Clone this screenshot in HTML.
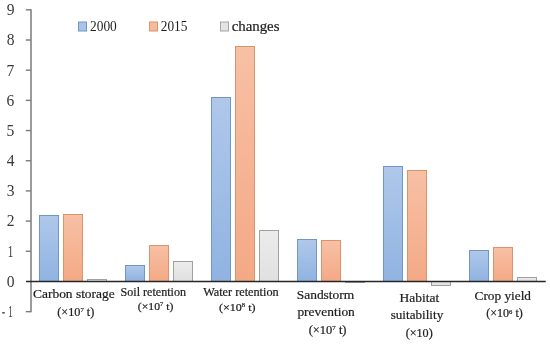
<!DOCTYPE html>
<html><head><meta charset="utf-8"><style>
html,body{margin:0;padding:0;background:#fff;width:550px;height:344px;overflow:hidden}
svg{display:block;font-family:"Liberation Serif",serif;position:absolute;left:0;top:0}
.tx{will-change:transform}
.tx text.b{stroke:#1e1e1e;stroke-width:0.22px}
</style></head><body>
<svg width="550" height="344" viewBox="0 0 550 344">
<defs>
<linearGradient id="gb" x1="0" y1="0" x2="0" y2="1"><stop offset="0" stop-color="#afc8ea"/><stop offset="1" stop-color="#90b3e1"/></linearGradient>
<linearGradient id="go" x1="0" y1="0" x2="0" y2="1"><stop offset="0" stop-color="#f7c0a5"/><stop offset="1" stop-color="#f4a985"/></linearGradient>
<linearGradient id="gg" x1="0" y1="0" x2="0" y2="1"><stop offset="0" stop-color="#ececec"/><stop offset="1" stop-color="#e0e0e0"/></linearGradient>
</defs>
<rect x="39.50" y="215.50" width="19.00" height="66.00" fill="url(#gb)" stroke="#7494c4" stroke-width="1"/>
<rect x="63.50" y="214.50" width="19.00" height="67.00" fill="url(#go)" stroke="#d9946c" stroke-width="1"/>
<rect x="87.50" y="279.50" width="19.00" height="2.00" fill="url(#gg)" stroke="#a0a0a0" stroke-width="1"/>
<rect x="125.50" y="265.50" width="19.00" height="16.00" fill="url(#gb)" stroke="#7494c4" stroke-width="1"/>
<rect x="149.50" y="245.50" width="19.00" height="36.00" fill="url(#go)" stroke="#d9946c" stroke-width="1"/>
<rect x="173.50" y="261.50" width="19.00" height="20.00" fill="url(#gg)" stroke="#a0a0a0" stroke-width="1"/>
<rect x="211.50" y="97.50" width="19.00" height="184.00" fill="url(#gb)" stroke="#7494c4" stroke-width="1"/>
<rect x="235.50" y="46.50" width="19.00" height="235.00" fill="url(#go)" stroke="#d9946c" stroke-width="1"/>
<rect x="259.50" y="230.50" width="19.00" height="51.00" fill="url(#gg)" stroke="#a0a0a0" stroke-width="1"/>
<rect x="297.50" y="239.50" width="19.00" height="42.00" fill="url(#gb)" stroke="#7494c4" stroke-width="1"/>
<rect x="321.50" y="240.50" width="19.00" height="41.00" fill="url(#go)" stroke="#d9946c" stroke-width="1"/>
<rect x="345.50" y="281.50" width="19.00" height="1.00" fill="url(#gg)" stroke="#a0a0a0" stroke-width="1"/>
<rect x="383.50" y="166.50" width="19.00" height="115.00" fill="url(#gb)" stroke="#7494c4" stroke-width="1"/>
<rect x="407.50" y="170.50" width="19.00" height="111.00" fill="url(#go)" stroke="#d9946c" stroke-width="1"/>
<rect x="431.50" y="281.50" width="19.00" height="4.00" fill="url(#gg)" stroke="#a0a0a0" stroke-width="1"/>
<rect x="469.50" y="250.50" width="19.00" height="31.00" fill="url(#gb)" stroke="#7494c4" stroke-width="1"/>
<rect x="493.50" y="247.50" width="19.00" height="34.00" fill="url(#go)" stroke="#d9946c" stroke-width="1"/>
<rect x="517.50" y="277.50" width="19.00" height="4.00" fill="url(#gg)" stroke="#a0a0a0" stroke-width="1"/>
<line x1="31.0" y1="9.13" x2="31.0" y2="312.33" stroke="#7a7a7a" stroke-width="1.5"/>
<line x1="25.8" y1="311.63" x2="31.0" y2="311.63" stroke="#7a7a7a" stroke-width="1.4"/>
<line x1="25.8" y1="251.27" x2="31.0" y2="251.27" stroke="#7a7a7a" stroke-width="1.4"/>
<line x1="25.8" y1="221.09" x2="31.0" y2="221.09" stroke="#7a7a7a" stroke-width="1.4"/>
<line x1="25.8" y1="190.91" x2="31.0" y2="190.91" stroke="#7a7a7a" stroke-width="1.4"/>
<line x1="25.8" y1="160.73" x2="31.0" y2="160.73" stroke="#7a7a7a" stroke-width="1.4"/>
<line x1="25.8" y1="130.55" x2="31.0" y2="130.55" stroke="#7a7a7a" stroke-width="1.4"/>
<line x1="25.8" y1="100.37" x2="31.0" y2="100.37" stroke="#7a7a7a" stroke-width="1.4"/>
<line x1="25.8" y1="70.19" x2="31.0" y2="70.19" stroke="#7a7a7a" stroke-width="1.4"/>
<line x1="25.8" y1="40.01" x2="31.0" y2="40.01" stroke="#7a7a7a" stroke-width="1.4"/>
<line x1="25.8" y1="9.83" x2="31.0" y2="9.83" stroke="#7a7a7a" stroke-width="1.4"/>
<line x1="26" y1="281.45" x2="545.7" y2="281.45" stroke="#262626" stroke-width="1.4"/>
<rect x="2.2" y="312.2" width="2.6" height="1.3" fill="#333"/>
<rect x="78.5" y="22" width="8" height="9" fill="#a9c4ea" stroke="#7494c4" stroke-width="1"/>
<rect x="149.5" y="22" width="8" height="9" fill="#f6ba9d" stroke="#d9946c" stroke-width="1"/>
<rect x="220.5" y="22" width="8" height="9" fill="#e4e4e4" stroke="#a6a6a6" stroke-width="1"/>
</svg>
<svg class="tx" width="550" height="344" viewBox="0 0 550 344">
<text transform="translate(6.71 286.85) scale(0.9500 1)" fill="#3a3a3a"><tspan font-size="16.4" dy="0.00">0</tspan></text>
<text transform="translate(7.73 256.77) scale(0.6755 1)" fill="#3a3a3a"><tspan font-size="16.4" dy="0.00">1</tspan></text>
<text transform="translate(6.79 226.49) scale(0.9500 1)" fill="#3a3a3a"><tspan font-size="16.4" dy="0.00">2</tspan></text>
<text transform="translate(6.64 196.31) scale(0.9500 1)" fill="#3a3a3a"><tspan font-size="16.4" dy="0.00">3</tspan></text>
<text transform="translate(6.67 166.13) scale(0.9500 1)" fill="#3a3a3a"><tspan font-size="16.4" dy="0.00">4</tspan></text>
<text transform="translate(6.56 135.95) scale(0.9500 1)" fill="#3a3a3a"><tspan font-size="16.4" dy="0.00">5</tspan></text>
<text transform="translate(6.60 105.77) scale(0.9500 1)" fill="#3a3a3a"><tspan font-size="16.4" dy="0.00">6</tspan></text>
<text transform="translate(6.42 75.59) scale(0.9500 1)" fill="#3a3a3a"><tspan font-size="16.4" dy="0.00">7</tspan></text>
<text transform="translate(6.71 45.41) scale(0.9500 1)" fill="#3a3a3a"><tspan font-size="16.4" dy="0.00">8</tspan></text>
<text transform="translate(6.77 15.23) scale(0.9500 1)" fill="#3a3a3a"><tspan font-size="16.4" dy="0.00">9</tspan></text>
<text transform="translate(8.20 316.83) scale(0.5542 1)" fill="#3a3a3a"><tspan font-size="16.4" dy="0.00">1</tspan></text>
<text transform="translate(90.01 30.80) scale(0.8933 1)" fill="#1e1e1e"><tspan font-size="15" dy="0.00">2000</tspan></text>
<text transform="translate(160.71 30.80) scale(0.8903 1)" fill="#1e1e1e"><tspan font-size="15" dy="0.00">2015</tspan></text>
<text class="b" transform="translate(231.63 30.80) scale(0.9916 1)" fill="#1e1e1e"><tspan font-size="15" dy="0.00">changes</tspan></text>
<text class="b" transform="translate(33.05 297.90) scale(0.9953 1)" fill="#1e1e1e"><tspan font-size="13.5" dy="0.00">Carbon storage</tspan></text>
<text class="b" transform="translate(57.26 315.80) scale(1.0448 1)" fill="#1e1e1e"><tspan font-size="11.7" dy="0.00">(×10</tspan><tspan font-size="6.4350000000000005" dy="-3.60">7</tspan><tspan font-size="11.7" dy="3.60"> t)</tspan></text>
<text class="b" transform="translate(120.59 296.00) scale(0.9674 1)" fill="#1e1e1e"><tspan font-size="12.5" dy="0.00">Soil retention</tspan></text>
<text class="b" transform="translate(137.79 309.60) scale(1.0650 1)" fill="#1e1e1e"><tspan font-size="11" dy="0.00">(×10</tspan><tspan font-size="6.050000000000001" dy="-3.60">7</tspan><tspan font-size="11" dy="3.60"> t)</tspan></text>
<text class="b" transform="translate(203.19 296.40) scale(0.9797 1)" fill="#1e1e1e"><tspan font-size="12.5" dy="0.00">Water retention</tspan></text>
<text class="b" transform="translate(218.97 311.00) scale(1.0959 1)" fill="#1e1e1e"><tspan font-size="11" dy="0.00">(×10</tspan><tspan font-size="6.050000000000001" dy="-3.60">8</tspan><tspan font-size="11" dy="3.60"> t)</tspan></text>
<text class="b" transform="translate(296.70 299.30) scale(1.0126 1)" fill="#1e1e1e"><tspan font-size="13.3" dy="0.00">Sandstorm</tspan></text>
<text class="b" transform="translate(297.38 316.20) scale(1.0113 1)" fill="#1e1e1e"><tspan font-size="13.3" dy="0.00">prevention</tspan></text>
<text class="b" transform="translate(308.65 333.50) scale(1.0680 1)" fill="#1e1e1e"><tspan font-size="11.7" dy="0.00">(×10</tspan><tspan font-size="6.4350000000000005" dy="-3.60">7</tspan><tspan font-size="11.7" dy="3.60"> t)</tspan></text>
<text class="b" transform="translate(399.61 301.80) scale(1.0159 1)" fill="#1e1e1e"><tspan font-size="13.3" dy="0.00">Habitat</tspan></text>
<text class="b" transform="translate(390.66 319.00) scale(0.9885 1)" fill="#1e1e1e"><tspan font-size="13.3" dy="0.00">suitability</tspan></text>
<text class="b" transform="translate(405.67 336.50) scale(0.9710 1)" fill="#1e1e1e"><tspan font-size="12.5" dy="0.00">(×10)</tspan></text>
<text class="b" transform="translate(474.55 299.90) scale(0.9998 1)" fill="#1e1e1e"><tspan font-size="13.3" dy="0.00">Crop yield</tspan></text>
<text class="b" transform="translate(486.27 317.30) scale(1.0303 1)" fill="#1e1e1e"><tspan font-size="11.7" dy="0.00">(×10</tspan><tspan font-size="6.4350000000000005" dy="-3.60">6</tspan><tspan font-size="11.7" dy="3.60"> t)</tspan></text>
</svg>
</body></html>
